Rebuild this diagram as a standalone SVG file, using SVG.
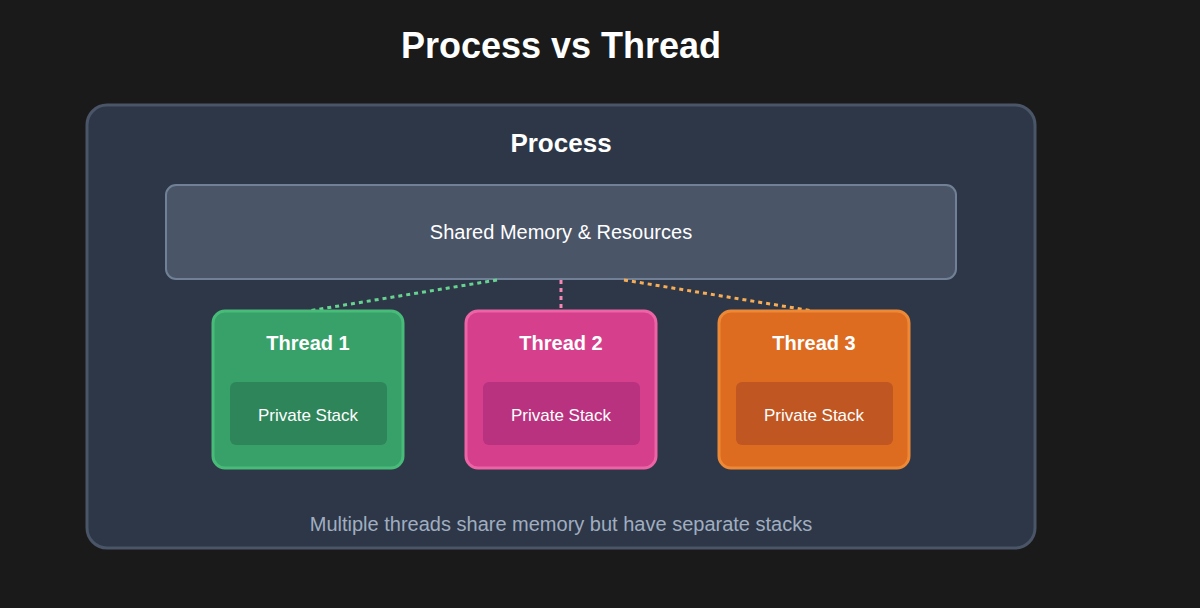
<svg xmlns="http://www.w3.org/2000/svg" width="1200" height="608" viewBox="0 0 1200 608">
<style>
text{font-family:"Liberation Sans",Arial,sans-serif;text-anchor:middle;dominant-baseline:central;fill:#fff}
.b{font-weight:bold}
.t{stroke-width:3}
.c{stroke-width:3;stroke-dasharray:4 4;fill:none}
</style>
<rect width="1200" height="608" fill="#1a1a1a"/>
<text class="b" x="561" y="45" font-size="36">Process vs Thread</text>
<g id="process">
<rect x="87" y="105" width="948" height="443" rx="20" fill="#2d3748" stroke="#4a5568" stroke-width="3"/>
<text class="b" x="561" y="143" font-size="26">Process</text>
<text x="561" y="524" font-size="20" style="fill:#a0aec0">Multiple threads share memory but have separate stacks</text>
</g>
<g id="shared">
<rect x="166" y="185" width="790" height="94" rx="10" fill="#4a5568" stroke="#718096" stroke-width="2"/>
<text x="561" y="232" font-size="20">Shared Memory &amp; Resources</text>
</g>
<g id="connectors">
<line class="c" x1="497" y1="280" x2="308" y2="311" stroke="#68d391"/>
<line class="c" x1="561" y1="280" x2="561" y2="311" stroke="#f687b3"/>
<line class="c" x1="624" y1="280" x2="813" y2="311" stroke="#f6ad55"/>
</g>
<g id="thread1">
<rect class="t" x="213" y="311" width="190" height="157" rx="12" fill="#38a169" stroke="#48bb78"/>
<text class="b" x="308" y="343" font-size="20">Thread 1</text>
<rect x="230" y="382" width="157" height="63" rx="6" fill="#2f855a"/>
<text x="308" y="415" font-size="17">Private Stack</text>
</g>
<g id="thread2">
<rect class="t" x="466" y="311" width="190" height="157" rx="12" fill="#d53f8c" stroke="#ed64a6"/>
<text class="b" x="561" y="343" font-size="20">Thread 2</text>
<rect x="483" y="382" width="157" height="63" rx="6" fill="#b83280"/>
<text x="561" y="415" font-size="17">Private Stack</text>
</g>
<g id="thread3">
<rect class="t" x="719" y="311" width="190" height="157" rx="12" fill="#dd6b20" stroke="#ed8936"/>
<text class="b" x="814" y="343" font-size="20">Thread 3</text>
<rect x="736" y="382" width="157" height="63" rx="6" fill="#c05621"/>
<text x="814" y="415" font-size="17">Private Stack</text>
</g>
</svg>
